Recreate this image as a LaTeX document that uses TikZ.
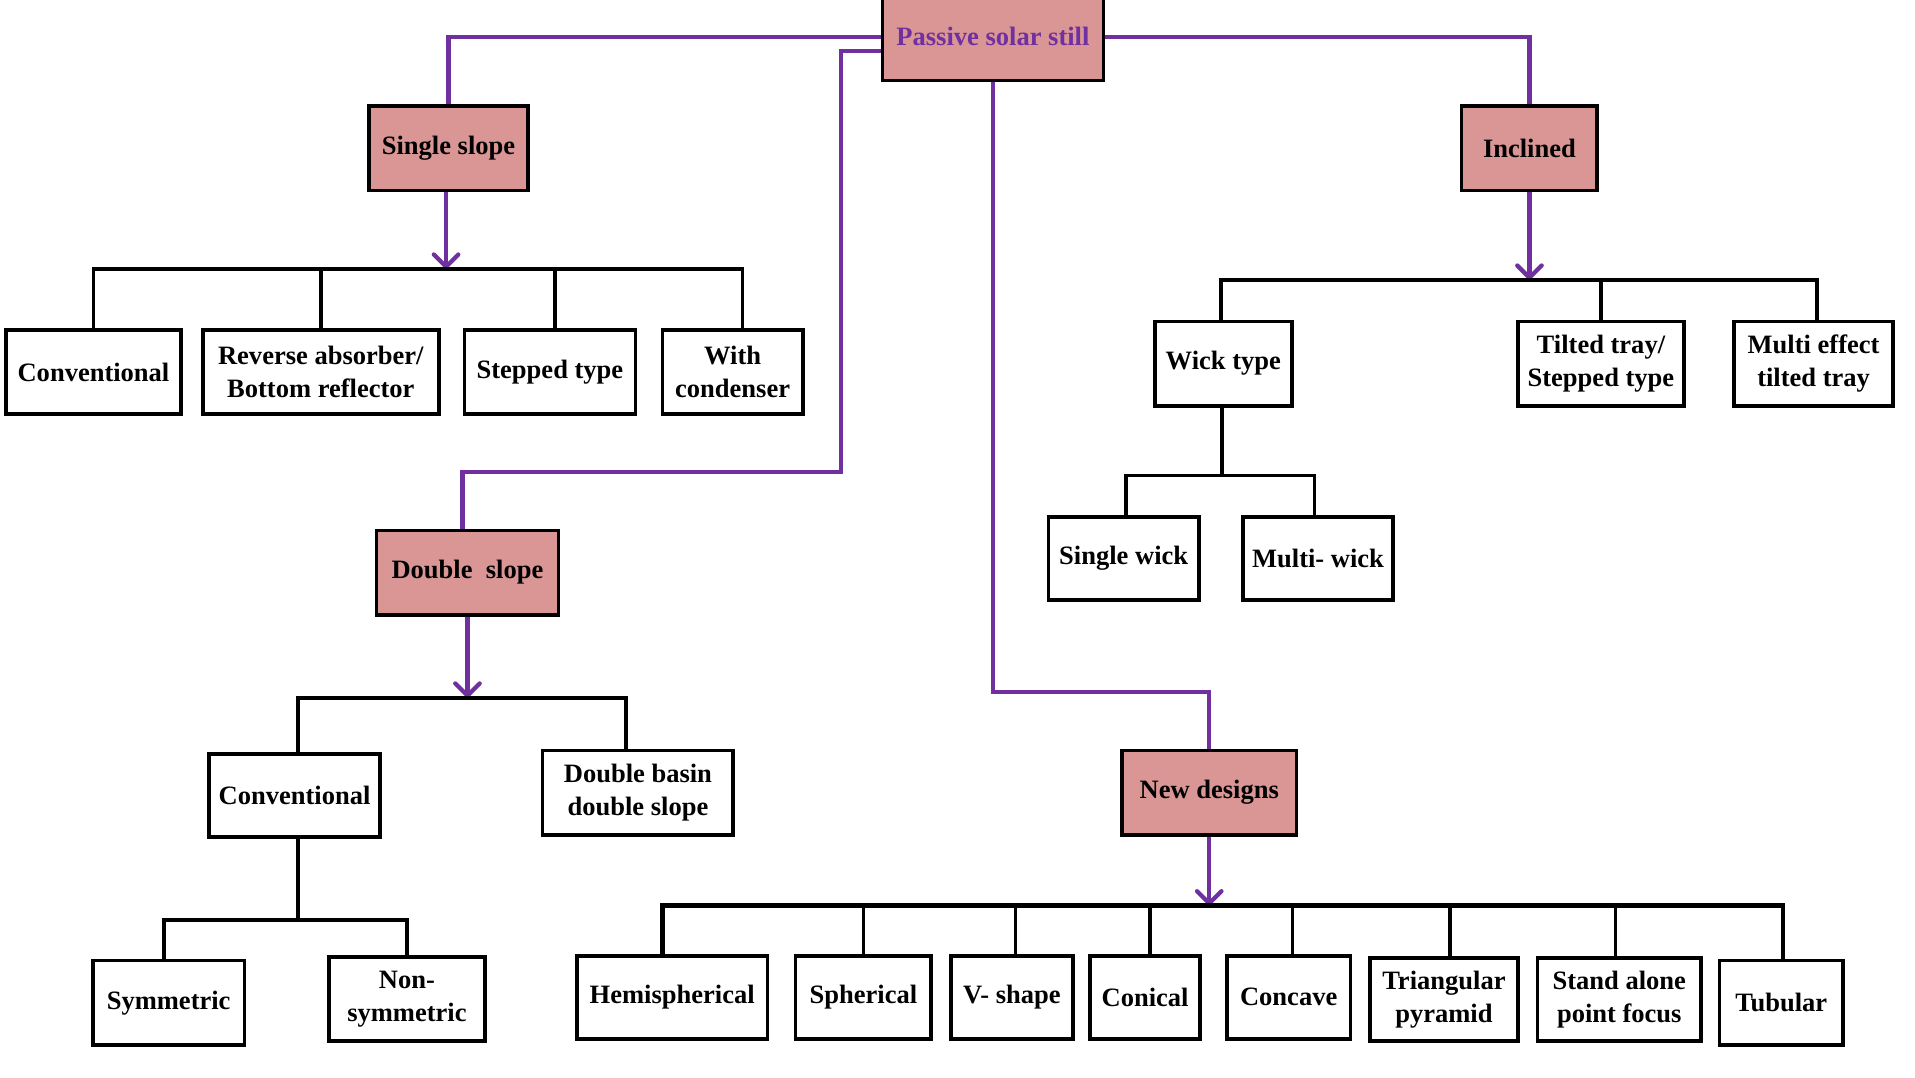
\documentclass[tikz,border=0pt]{standalone}
\usepackage{fontspec}
\setmainfont{Liberation Serif}
\usetikzlibrary{arrows.meta}
\definecolor{stillpurple}{HTML}{7030A0}
\definecolor{stillrose}{HTML}{D99694}
\tikzset{
	box/.style={draw=black, line width=3pt, inner sep=0pt, align=center, font=\fontsize{21.7}{27}\selectfont\bfseries},
	headbox/.style={box, fill=stillrose},
	leafbox/.style={box, fill=white},
	link/.style={draw=stillpurple, line width=3.5pt},
	linkarrow/.style={link, -{Straight Barb[length=10pt,width=20pt,round]}},
	branch/.style={draw=black, line width=3pt}
}
\begin{document}
\begin{tikzpicture}[x=1pt, y=-1pt]
			%%%%% START %%%%%
			\useasboundingbox (0,0) rectangle (1567,882);
			
			\node[headbox, text=stillpurple, minimum width=181pt, minimum height=72pt] (top) at (812.5,30) {Passive solar still};
			
			\node[headbox, minimum width=130pt, minimum height=69pt] (single) at (367,121.5) {Single slope};
			\node[headbox, minimum width=111pt, minimum height=69pt] (incl) at (1251.5,121.5) {Inclined};
			\node[headbox, minimum width=149pt, minimum height=69pt] (double) at (382.5,468.5) {Double\ \ slope};
			\node[headbox, minimum width=143pt, minimum height=69pt] (newd) at (989.5,648.5) {New designs};
			
			% single slope
			\node[leafbox, minimum width=143pt, minimum height=69pt] (conv1) at (76.5,304.5) {Conventional};
			\node[leafbox, minimum width=193pt, minimum height=69pt] (rev) at (262.5,304.5) {Reverse absorber/\\Bottom reflector};
			\node[leafbox, minimum width=140pt, minimum height=69pt] (stepd) at (450,304.5) {Stepped type};
			\node[leafbox, minimum width=115pt, minimum height=69pt] (cond) at (599.5,304.5) {With\\condenser};
			
			% inclined
			\node[leafbox, minimum width=112pt, minimum height=69pt] (wick) at (1001,297.5) {Wick type};
			\node[leafbox, minimum width=136pt, minimum height=69pt] (tilt) at (1310,297.5) {Tilted tray/\\Stepped type};
			\node[leafbox, minimum width=130pt, minimum height=69pt] (multi) at (1484,297.5) {Multi effect\\tilted tray};
			\node[leafbox, minimum width=123pt, minimum height=68pt] (swick) at (919.5,457) {Single wick};
			\node[leafbox, minimum width=123pt, minimum height=68pt] (mwick) at (1078.5,457) {Multi- wick};
			
			% double slope
			\node[leafbox, minimum width=140pt, minimum height=68pt] (conv2) at (241,651) {Conventional};
			\node[leafbox, minimum width=156pt, minimum height=69pt] (basin) at (522,648.5) {Double basin\\double slope};
			\node[leafbox, minimum width=124pt, minimum height=69pt] (sym) at (138,820.5) {Symmetric};
			\node[leafbox, minimum width=128pt, minimum height=69pt] (nonsym) at (333,817.5) {Non-\\symmetric};
			
			% new designs
			\node[leafbox, minimum width=156pt, minimum height=68pt] (hemi) at (550,816) {Hemispherical};
			\node[leafbox, minimum width=111pt, minimum height=68pt] (sph) at (706.5,816) {Spherical};
			\node[leafbox, minimum width=100pt, minimum height=68pt] (vsh) at (828,816) {V- shape};
			\node[leafbox, minimum width=90pt, minimum height=68pt] (con) at (937,816) {Conical};
			\node[leafbox, minimum width=101pt, minimum height=68pt] (conc) at (1054.5,816) {Concave};
			\node[leafbox, minimum width=121pt, minimum height=68pt] (tri) at (1181.5,818) {Triangular\\pyramid};
			\node[leafbox, minimum width=134pt, minimum height=68pt] (stand) at (1325,818) {Stand alone\\point focus};
			\node[leafbox, minimum width=101pt, minimum height=69pt] (tub) at (1457.5,820.5) {Tubular};
			
			% purple links from the top
			\coordinate (bendA) at (688,386);
			\coordinate (bendB) at (812.5,566);
			\draw[link] (top.west) -| (single.north);
			\draw[link] ([yshift=-12pt]top.west) -| (bendA) -| ([xshift=-4pt]double.north);
			\draw[link] (top.east) -| (incl.north);
			\draw[link] (top.south) -- (bendB) -| (newd.north);
			
			% single slope branches
			\coordinate (busA) at (365,220);
			\draw[linkarrow] ([xshift=-2pt]single.south) -- (busA);
			\draw[branch] (conv1.north) |- (busA) -| ([xshift=8pt]cond.north);
			\draw[branch] (rev.north) -- (rev.north |- busA);
			\draw[branch] ([xshift=4pt]stepd.north) -- ([xshift=4pt]stepd.north |- busA);
			
			% inclined branches
			\coordinate (busB) at (1251.5,229);
			\coordinate (busC) at (1000,389);
			\draw[linkarrow] (incl.south) -- (busB);
			\draw[branch] ([xshift=-2pt]wick.north) |- (busB) -| ([xshift=3pt]multi.north);
			\draw[branch] (tilt.north) -- (tilt.north |- busB);
			\draw[branch] ([xshift=-1pt]wick.south) -- (busC);
			\draw[branch] ([xshift=2pt]swick.north) |- (busC) -| ([xshift=-3pt]mwick.north);
			
			% double slope branches
			\coordinate (busD) at (382.5,571);
			\coordinate (busE) at (244,753);
			\draw[linkarrow] (double.south) -- (busD);
			\draw[branch] ([xshift=3pt]conv2.north) |- (busD) -| ([xshift=-10pt]basin.north);
			\draw[branch] ([xshift=3pt]conv2.south) -- (busE);
			\draw[branch] ([xshift=-4pt]sym.north) |- (busE) -| (nonsym.north);
			
			% new designs branches
			\coordinate (busF) at (989.5,741);
			\draw[linkarrow] (newd.south) -- (busF);
			\draw[branch, line width=4pt] ([xshift=-8pt]hemi.north) |- (busF) -| ([xshift=1.5pt]tub.north);
			\foreach \n/\dx in {sph/0, vsh/3, con/4, conc/3, tri/5, stand/-3}
				\draw[branch] ([xshift=\dx pt]\n.north) -- ([xshift=\dx pt]\n.north |- busF);
			
			%%%%% END %%%%%
\end{tikzpicture}
\end{document}
